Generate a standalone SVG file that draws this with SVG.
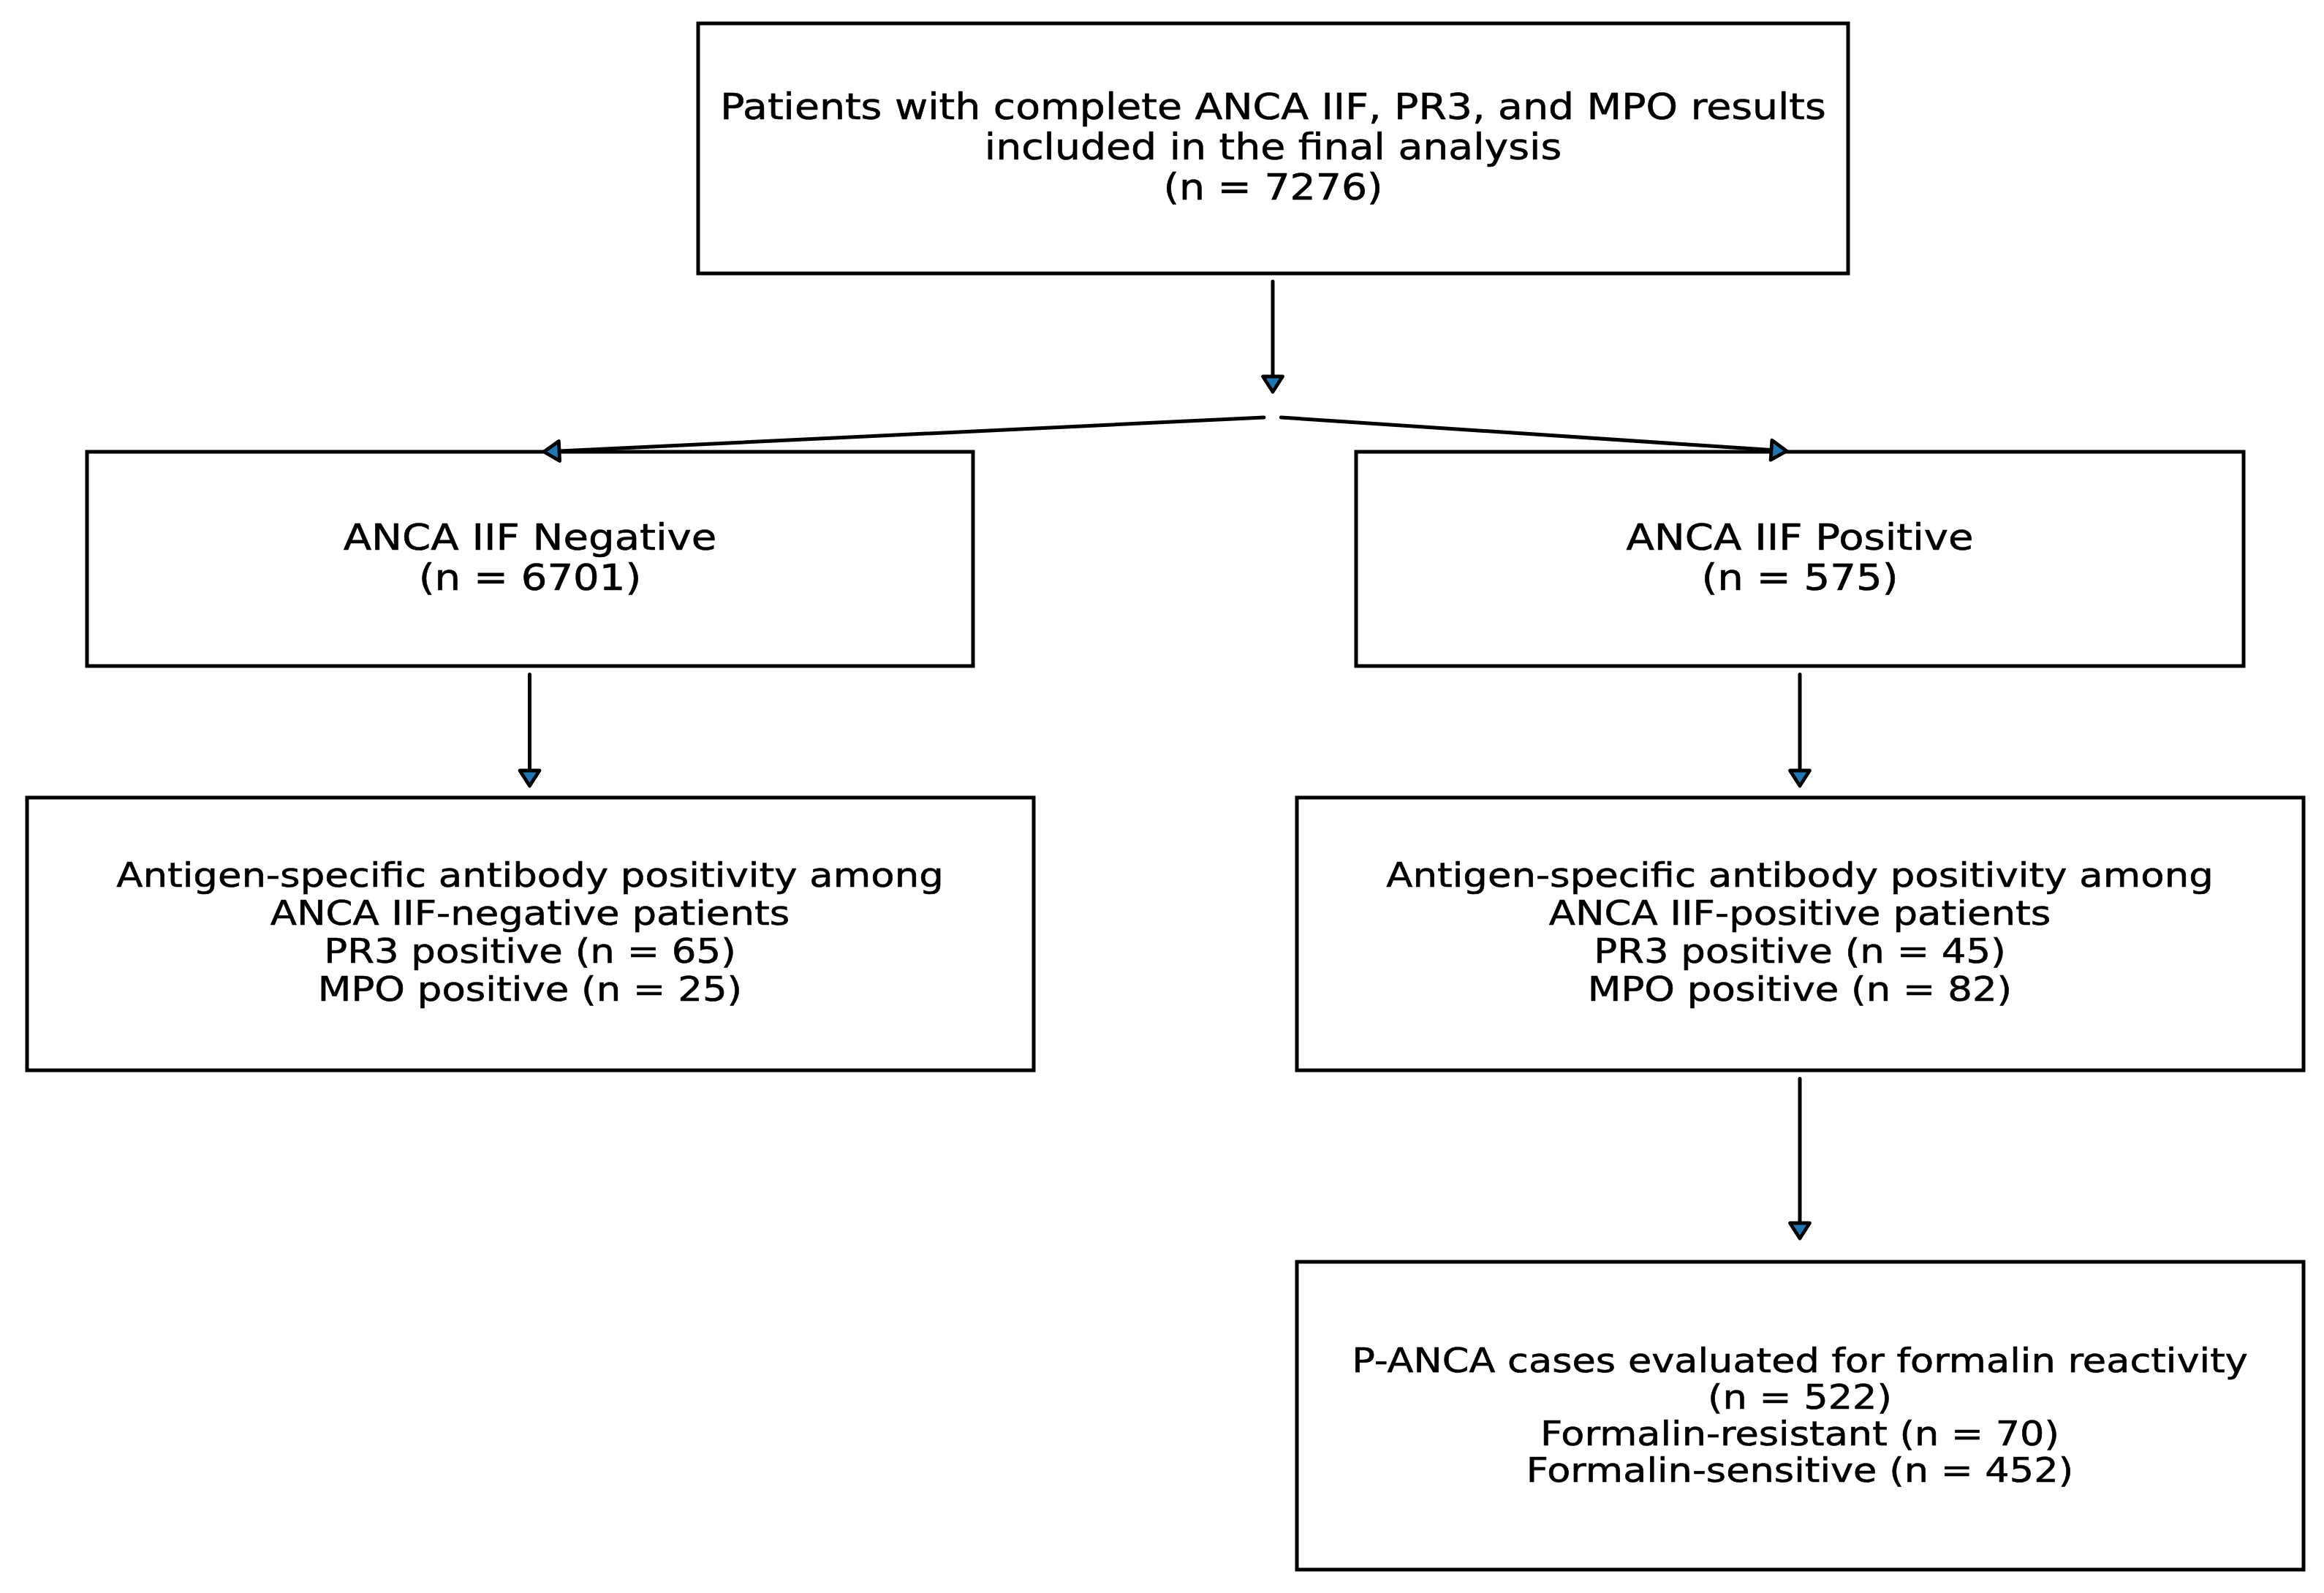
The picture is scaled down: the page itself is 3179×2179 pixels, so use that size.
<svg xmlns="http://www.w3.org/2000/svg" width="3179" height="2179" viewBox="0 0 3179 2179">
<style>
.box{fill:#ffffff;stroke:#000000;stroke-width:5}
.lbl{font-family:"DejaVu Sans","Liberation Sans",sans-serif;fill:#000000;stroke:#000000;stroke-width:0.6;text-anchor:middle}
.big{font-size:49px}
.mid{font-size:47px}
.sm{font-size:46.5px}
.conn{fill:none;stroke:#000000;stroke-width:5;stroke-linecap:round;marker-end:url(#ah)}
</style>
<defs>
<marker id="ah" markerUnits="userSpaceOnUse" markerWidth="60" markerHeight="60" refX="0" refY="0" orient="auto" overflow="visible">
<path d="M0,-13.5 L21,0 L0,13.5 Z" fill="#1f77b4" stroke="#000000" stroke-width="4.8" stroke-linejoin="round"/>
</marker>
</defs>
<rect width="3179" height="2179" fill="#ffffff"/>
<g id="node-total">
<rect class="box" x="955" y="32" width="1573" height="342"/>
<g transform="translate(1741.5,0) scale(1.128,1)">
<text class="lbl big" x="0" y="163">Patients with complete ANCA IIF, PR3, and MPO results</text>
<text class="lbl big" x="0" y="218">included in the final analysis</text>
<text class="lbl big" x="0" y="273">(n = 7276)</text>
</g>
</g>
<g id="node-negative">
<rect class="box" x="119" y="618" width="1212" height="293"/>
<g transform="translate(725,0) scale(1.145,1)">
<text class="lbl big" x="0" y="752">ANCA IIF Negative</text>
<text class="lbl big" x="0" y="807">(n = 6701)</text>
</g>
</g>
<g id="node-positive">
<rect class="box" x="1855" y="618" width="1214" height="293"/>
<g transform="translate(2462,0) scale(1.145,1)">
<text class="lbl big" x="0" y="752">ANCA IIF Positive</text>
<text class="lbl big" x="0" y="807">(n = 575)</text>
</g>
</g>
<g id="node-neg-antigen">
<rect class="box" x="37" y="1091" width="1377" height="373"/>
<g transform="translate(725,0) scale(1.126,1)">
<text class="lbl mid" x="0" y="1213">Antigen-specific antibody positivity among</text>
<text class="lbl mid" x="0" y="1265">ANCA IIF-negative patients</text>
<text class="lbl mid" x="0" y="1317">PR3 positive (n = 65)</text>
<text class="lbl mid" x="0" y="1369">MPO positive (n = 25)</text>
</g>
</g>
<g id="node-pos-antigen">
<rect class="box" x="1774" y="1091" width="1377" height="373"/>
<g transform="translate(2462,0) scale(1.126,1)">
<text class="lbl mid" x="0" y="1213">Antigen-specific antibody positivity among</text>
<text class="lbl mid" x="0" y="1265">ANCA IIF-positive patients</text>
<text class="lbl mid" x="0" y="1317">PR3 positive (n = 45)</text>
<text class="lbl mid" x="0" y="1369">MPO positive (n = 82)</text>
</g>
</g>
<g id="node-panca">
<rect class="box" x="1774" y="1726" width="1377" height="421"/>
<g transform="translate(2462,0) scale(1.13,1)">
<text class="lbl sm" x="0" y="1877">P-ANCA cases evaluated for formalin reactivity</text>
<text class="lbl sm" x="0" y="1927">(n = 522)</text>
<text class="lbl sm" x="0" y="1977">Formalin-resistant (n = 70)</text>
<text class="lbl sm" x="0" y="2027">Formalin-sensitive (n = 452)</text>
</g>
</g>
<g id="connectors">
<line class="conn" x1="1741" y1="385" x2="1741" y2="515"/>
<line class="conn" x1="1729" y1="571" x2="765" y2="617"/>
<line class="conn" x1="1752.5" y1="571" x2="2423" y2="615.6"/>
<line class="conn" x1="724.5" y1="922.5" x2="724.5" y2="1054"/>
<line class="conn" x1="2462" y1="922.5" x2="2462" y2="1054"/>
<line class="conn" x1="2462" y1="1475.5" x2="2462" y2="1673"/>
</g>
</svg>
